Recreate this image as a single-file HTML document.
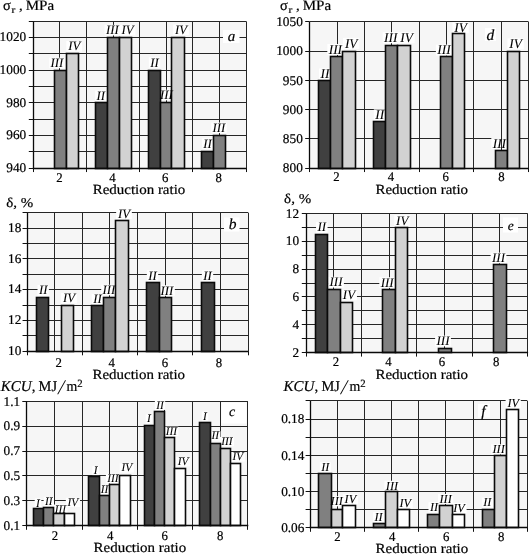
<!DOCTYPE html>
<html lang="en"><head><meta charset="utf-8"><title>Figure</title>
<style>
html,body{margin:0;padding:0;background:#fff;}
svg{display:block;font-family:"Liberation Serif", serif;fill:#111;}
svg text{fill:#000;stroke:#000;stroke-width:0.2px;text-rendering:geometricPrecision;}
</style></head>
<body>
<svg width="532" height="554" viewBox="0 0 532 554">
<rect x="0" y="0" width="532" height="554" fill="#ffffff"/>
<rect x="33.30" y="21.35" width="212.80" height="146.70" fill="#f6f6f6"/>
<line x1="33.50" y1="21.35" x2="33.50" y2="168.05" stroke="#262626" stroke-width="1.0"/>
<line x1="59.50" y1="21.35" x2="59.50" y2="168.05" stroke="#262626" stroke-width="1.0"/>
<line x1="86.50" y1="21.35" x2="86.50" y2="168.05" stroke="#262626" stroke-width="1.0"/>
<line x1="113.50" y1="21.35" x2="113.50" y2="168.05" stroke="#262626" stroke-width="1.0"/>
<line x1="139.50" y1="21.35" x2="139.50" y2="168.05" stroke="#262626" stroke-width="1.0"/>
<line x1="166.50" y1="21.35" x2="166.50" y2="168.05" stroke="#262626" stroke-width="1.0"/>
<line x1="192.50" y1="21.35" x2="192.50" y2="168.05" stroke="#262626" stroke-width="1.0"/>
<line x1="219.50" y1="21.35" x2="219.50" y2="168.05" stroke="#262626" stroke-width="1.0"/>
<line x1="246.50" y1="21.35" x2="246.50" y2="168.05" stroke="#262626" stroke-width="1.0"/>
<line x1="33.30" y1="21.50" x2="246.10" y2="21.50" stroke="#262626" stroke-width="1.0"/>
<line x1="33.30" y1="37.50" x2="246.10" y2="37.50" stroke="#262626" stroke-width="1.0"/>
<line x1="33.30" y1="53.50" x2="246.10" y2="53.50" stroke="#262626" stroke-width="1.0"/>
<line x1="33.30" y1="70.50" x2="246.10" y2="70.50" stroke="#262626" stroke-width="1.0"/>
<line x1="33.30" y1="86.50" x2="246.10" y2="86.50" stroke="#262626" stroke-width="1.0"/>
<line x1="33.30" y1="102.50" x2="246.10" y2="102.50" stroke="#262626" stroke-width="1.0"/>
<line x1="33.30" y1="119.50" x2="246.10" y2="119.50" stroke="#262626" stroke-width="1.0"/>
<line x1="33.30" y1="135.50" x2="246.10" y2="135.50" stroke="#262626" stroke-width="1.0"/>
<line x1="33.30" y1="151.50" x2="246.10" y2="151.50" stroke="#262626" stroke-width="1.0"/>
<line x1="33.30" y1="168.50" x2="246.10" y2="168.50" stroke="#262626" stroke-width="1.0"/>
<rect x="49.21" y="57.68" width="15.58" height="10.50" fill="#ffffff"/>
<rect x="66.34" y="41.08" width="15.71" height="10.50" fill="#ffffff"/>
<rect x="95.12" y="90.48" width="11.36" height="10.50" fill="#ffffff"/>
<rect x="104.51" y="24.88" width="15.58" height="10.50" fill="#ffffff"/>
<rect x="119.64" y="24.88" width="15.71" height="10.50" fill="#ffffff"/>
<rect x="148.82" y="57.28" width="11.36" height="10.50" fill="#ffffff"/>
<rect x="158.71" y="89.78" width="15.58" height="10.50" fill="#ffffff"/>
<rect x="173.14" y="24.58" width="15.71" height="10.50" fill="#ffffff"/>
<rect x="201.82" y="138.28" width="11.36" height="10.50" fill="#ffffff"/>
<rect x="211.21" y="122.58" width="15.58" height="10.50" fill="#ffffff"/>
<rect x="223.00" y="30.00" width="16.50" height="13.00" fill="#ffffff"/>
<rect x="54.50" y="70.50" width="12.00" height="98.00" fill="#808080" stroke="#0a0a0a" stroke-width="1.6"/>
<rect x="66.50" y="53.50" width="12.00" height="115.00" fill="#d2d2d2" stroke="#0a0a0a" stroke-width="1.6"/>
<rect x="95.50" y="102.50" width="12.00" height="66.00" fill="#404040" stroke="#0a0a0a" stroke-width="1.6"/>
<rect x="107.50" y="37.50" width="12.00" height="131.00" fill="#808080" stroke="#0a0a0a" stroke-width="1.6"/>
<rect x="119.50" y="37.50" width="12.00" height="131.00" fill="#d2d2d2" stroke="#0a0a0a" stroke-width="1.6"/>
<rect x="148.50" y="70.50" width="12.00" height="98.00" fill="#404040" stroke="#0a0a0a" stroke-width="1.6"/>
<rect x="160.50" y="102.50" width="11.00" height="66.00" fill="#808080" stroke="#0a0a0a" stroke-width="1.6"/>
<rect x="171.50" y="37.50" width="13.00" height="131.00" fill="#d2d2d2" stroke="#0a0a0a" stroke-width="1.6"/>
<rect x="201.50" y="151.50" width="12.00" height="17.00" fill="#404040" stroke="#0a0a0a" stroke-width="1.6"/>
<rect x="213.50" y="135.50" width="12.00" height="33.00" fill="#808080" stroke="#0a0a0a" stroke-width="1.6"/>
<line x1="33.50" y1="21.35" x2="33.50" y2="168.55" stroke="#0a0a0a" stroke-width="1.3"/>
<line x1="32.80" y1="168.50" x2="246.60" y2="168.50" stroke="#0a0a0a" stroke-width="1.3"/>
<line x1="28.80" y1="21.50" x2="33.30" y2="21.50" stroke="#111" stroke-width="1.0"/>
<line x1="28.80" y1="37.50" x2="33.30" y2="37.50" stroke="#111" stroke-width="1.0"/>
<line x1="28.80" y1="53.50" x2="33.30" y2="53.50" stroke="#111" stroke-width="1.0"/>
<line x1="28.80" y1="70.50" x2="33.30" y2="70.50" stroke="#111" stroke-width="1.0"/>
<line x1="28.80" y1="86.50" x2="33.30" y2="86.50" stroke="#111" stroke-width="1.0"/>
<line x1="28.80" y1="102.50" x2="33.30" y2="102.50" stroke="#111" stroke-width="1.0"/>
<line x1="28.80" y1="119.50" x2="33.30" y2="119.50" stroke="#111" stroke-width="1.0"/>
<line x1="28.80" y1="135.50" x2="33.30" y2="135.50" stroke="#111" stroke-width="1.0"/>
<line x1="28.80" y1="151.50" x2="33.30" y2="151.50" stroke="#111" stroke-width="1.0"/>
<line x1="28.80" y1="168.50" x2="33.30" y2="168.50" stroke="#111" stroke-width="1.0"/>
<line x1="33.50" y1="168.05" x2="33.50" y2="172.05" stroke="#111" stroke-width="1.0"/>
<line x1="86.50" y1="168.05" x2="86.50" y2="172.05" stroke="#111" stroke-width="1.0"/>
<line x1="139.50" y1="168.05" x2="139.50" y2="172.05" stroke="#111" stroke-width="1.0"/>
<line x1="192.50" y1="168.05" x2="192.50" y2="172.05" stroke="#111" stroke-width="1.0"/>
<line x1="246.50" y1="168.05" x2="246.50" y2="172.05" stroke="#111" stroke-width="1.0"/>
<text x="57.00" y="66.90" font-size="12.8" text-anchor="middle" font-style="italic" style="stroke-width:0.08px">III</text>
<text x="74.20" y="50.30" font-size="12.8" text-anchor="middle" font-style="italic" style="stroke-width:0.08px">IV</text>
<text x="100.80" y="99.70" font-size="12.8" text-anchor="middle" font-style="italic" style="stroke-width:0.08px">II</text>
<text x="112.30" y="34.10" font-size="12.8" text-anchor="middle" font-style="italic" style="stroke-width:0.08px">III</text>
<text x="127.50" y="34.10" font-size="12.8" text-anchor="middle" font-style="italic" style="stroke-width:0.08px">IV</text>
<text x="154.50" y="66.50" font-size="12.8" text-anchor="middle" font-style="italic" style="stroke-width:0.08px">II</text>
<text x="166.50" y="99.00" font-size="12.8" text-anchor="middle" font-style="italic" style="stroke-width:0.08px">III</text>
<text x="181.00" y="33.80" font-size="12.8" text-anchor="middle" font-style="italic" style="stroke-width:0.08px">IV</text>
<text x="207.50" y="147.50" font-size="12.8" text-anchor="middle" font-style="italic" style="stroke-width:0.08px">II</text>
<text x="219.00" y="131.80" font-size="12.8" text-anchor="middle" font-style="italic" style="stroke-width:0.08px">III</text>
<text x="231.50" y="40.50" font-size="15" text-anchor="middle" font-style="italic">a</text>
<text x="26.20" y="41.35" font-size="13.3" text-anchor="end" textLength="26.60" lengthAdjust="spacingAndGlyphs">1020</text>
<text x="26.20" y="73.95" font-size="13.3" text-anchor="end" textLength="26.60" lengthAdjust="spacingAndGlyphs">1000</text>
<text x="26.20" y="106.55" font-size="13.3" text-anchor="end" textLength="19.95" lengthAdjust="spacingAndGlyphs">980</text>
<text x="26.20" y="139.15" font-size="13.3" text-anchor="end" textLength="19.95" lengthAdjust="spacingAndGlyphs">960</text>
<text x="26.20" y="171.75" font-size="13.3" text-anchor="end" textLength="19.95" lengthAdjust="spacingAndGlyphs">940</text>
<text x="59.50" y="181.60" font-size="13.3" text-anchor="middle" textLength="6.40" lengthAdjust="spacingAndGlyphs">2</text>
<text x="112.50" y="181.60" font-size="13.3" text-anchor="middle" textLength="6.40" lengthAdjust="spacingAndGlyphs">4</text>
<text x="165.30" y="181.60" font-size="13.3" text-anchor="middle" textLength="6.40" lengthAdjust="spacingAndGlyphs">6</text>
<text x="218.70" y="181.60" font-size="13.3" text-anchor="middle" textLength="6.40" lengthAdjust="spacingAndGlyphs">8</text>
<text x="92.70" y="193.70" font-size="14" text-anchor="start" textLength="92.60" lengthAdjust="spacingAndGlyphs">Reduction ratio</text>
<rect x="27.05" y="212.70" width="221.05" height="138.60" fill="#f6f6f6"/>
<line x1="27.50" y1="212.70" x2="27.50" y2="351.30" stroke="#262626" stroke-width="1.0"/>
<line x1="54.50" y1="212.70" x2="54.50" y2="351.30" stroke="#262626" stroke-width="1.0"/>
<line x1="82.50" y1="212.70" x2="82.50" y2="351.30" stroke="#262626" stroke-width="1.0"/>
<line x1="109.50" y1="212.70" x2="109.50" y2="351.30" stroke="#262626" stroke-width="1.0"/>
<line x1="137.50" y1="212.70" x2="137.50" y2="351.30" stroke="#262626" stroke-width="1.0"/>
<line x1="165.50" y1="212.70" x2="165.50" y2="351.30" stroke="#262626" stroke-width="1.0"/>
<line x1="192.50" y1="212.70" x2="192.50" y2="351.30" stroke="#262626" stroke-width="1.0"/>
<line x1="220.50" y1="212.70" x2="220.50" y2="351.30" stroke="#262626" stroke-width="1.0"/>
<line x1="248.50" y1="212.70" x2="248.50" y2="351.30" stroke="#262626" stroke-width="1.0"/>
<line x1="27.05" y1="212.50" x2="248.10" y2="212.50" stroke="#262626" stroke-width="1.0"/>
<line x1="27.05" y1="228.50" x2="248.10" y2="228.50" stroke="#262626" stroke-width="1.0"/>
<line x1="27.05" y1="243.50" x2="248.10" y2="243.50" stroke="#262626" stroke-width="1.0"/>
<line x1="27.05" y1="258.50" x2="248.10" y2="258.50" stroke="#262626" stroke-width="1.0"/>
<line x1="27.05" y1="274.50" x2="248.10" y2="274.50" stroke="#262626" stroke-width="1.0"/>
<line x1="27.05" y1="289.50" x2="248.10" y2="289.50" stroke="#262626" stroke-width="1.0"/>
<line x1="27.05" y1="305.50" x2="248.10" y2="305.50" stroke="#262626" stroke-width="1.0"/>
<line x1="27.05" y1="320.50" x2="248.10" y2="320.50" stroke="#262626" stroke-width="1.0"/>
<line x1="27.05" y1="335.50" x2="248.10" y2="335.50" stroke="#262626" stroke-width="1.0"/>
<line x1="27.05" y1="351.50" x2="248.10" y2="351.50" stroke="#262626" stroke-width="1.0"/>
<rect x="37.52" y="285.08" width="11.36" height="10.50" fill="#ffffff"/>
<rect x="61.14" y="292.98" width="15.71" height="10.50" fill="#ffffff"/>
<rect x="91.72" y="293.98" width="11.36" height="10.50" fill="#ffffff"/>
<rect x="101.21" y="284.78" width="15.58" height="10.50" fill="#ffffff"/>
<rect x="116.14" y="208.58" width="15.71" height="10.50" fill="#ffffff"/>
<rect x="146.82" y="270.28" width="11.36" height="10.50" fill="#ffffff"/>
<rect x="159.21" y="285.28" width="15.58" height="10.50" fill="#ffffff"/>
<rect x="201.82" y="270.28" width="11.36" height="10.50" fill="#ffffff"/>
<rect x="224.00" y="217.50" width="15.50" height="14.00" fill="#ffffff"/>
<rect x="36.50" y="297.50" width="12.00" height="54.00" fill="#404040" stroke="#0a0a0a" stroke-width="1.6"/>
<rect x="61.50" y="305.50" width="12.00" height="46.00" fill="#d2d2d2" stroke="#0a0a0a" stroke-width="1.6"/>
<rect x="91.50" y="305.50" width="12.00" height="46.00" fill="#404040" stroke="#0a0a0a" stroke-width="1.6"/>
<rect x="103.50" y="297.50" width="12.00" height="54.00" fill="#808080" stroke="#0a0a0a" stroke-width="1.6"/>
<rect x="115.50" y="220.50" width="13.00" height="131.00" fill="#d2d2d2" stroke="#0a0a0a" stroke-width="1.6"/>
<rect x="146.50" y="282.50" width="13.00" height="69.00" fill="#404040" stroke="#0a0a0a" stroke-width="1.6"/>
<rect x="159.50" y="297.50" width="12.00" height="54.00" fill="#808080" stroke="#0a0a0a" stroke-width="1.6"/>
<rect x="201.50" y="282.50" width="13.00" height="69.00" fill="#404040" stroke="#0a0a0a" stroke-width="1.6"/>
<line x1="27.50" y1="212.70" x2="27.50" y2="351.80" stroke="#0a0a0a" stroke-width="1.3"/>
<line x1="26.55" y1="351.50" x2="248.60" y2="351.50" stroke="#0a0a0a" stroke-width="1.3"/>
<line x1="22.55" y1="212.50" x2="27.05" y2="212.50" stroke="#111" stroke-width="1.0"/>
<line x1="22.55" y1="228.50" x2="27.05" y2="228.50" stroke="#111" stroke-width="1.0"/>
<line x1="22.55" y1="243.50" x2="27.05" y2="243.50" stroke="#111" stroke-width="1.0"/>
<line x1="22.55" y1="258.50" x2="27.05" y2="258.50" stroke="#111" stroke-width="1.0"/>
<line x1="22.55" y1="274.50" x2="27.05" y2="274.50" stroke="#111" stroke-width="1.0"/>
<line x1="22.55" y1="289.50" x2="27.05" y2="289.50" stroke="#111" stroke-width="1.0"/>
<line x1="22.55" y1="305.50" x2="27.05" y2="305.50" stroke="#111" stroke-width="1.0"/>
<line x1="22.55" y1="320.50" x2="27.05" y2="320.50" stroke="#111" stroke-width="1.0"/>
<line x1="22.55" y1="335.50" x2="27.05" y2="335.50" stroke="#111" stroke-width="1.0"/>
<line x1="22.55" y1="351.50" x2="27.05" y2="351.50" stroke="#111" stroke-width="1.0"/>
<line x1="27.50" y1="351.30" x2="27.50" y2="355.30" stroke="#111" stroke-width="1.0"/>
<line x1="82.50" y1="351.30" x2="82.50" y2="355.30" stroke="#111" stroke-width="1.0"/>
<line x1="137.50" y1="351.30" x2="137.50" y2="355.30" stroke="#111" stroke-width="1.0"/>
<line x1="192.50" y1="351.30" x2="192.50" y2="355.30" stroke="#111" stroke-width="1.0"/>
<line x1="248.50" y1="351.30" x2="248.50" y2="355.30" stroke="#111" stroke-width="1.0"/>
<text x="43.20" y="294.30" font-size="12.8" text-anchor="middle" font-style="italic" style="stroke-width:0.08px">II</text>
<text x="69.00" y="302.20" font-size="12.8" text-anchor="middle" font-style="italic" style="stroke-width:0.08px">IV</text>
<text x="97.40" y="303.20" font-size="12.8" text-anchor="middle" font-style="italic" style="stroke-width:0.08px">II</text>
<text x="109.00" y="294.00" font-size="12.8" text-anchor="middle" font-style="italic" style="stroke-width:0.08px">III</text>
<text x="124.00" y="217.80" font-size="12.8" text-anchor="middle" font-style="italic" style="stroke-width:0.08px">IV</text>
<text x="152.50" y="279.50" font-size="12.8" text-anchor="middle" font-style="italic" style="stroke-width:0.08px">II</text>
<text x="167.00" y="294.50" font-size="12.8" text-anchor="middle" font-style="italic" style="stroke-width:0.08px">III</text>
<text x="207.50" y="279.50" font-size="12.8" text-anchor="middle" font-style="italic" style="stroke-width:0.08px">II</text>
<text x="232.50" y="229.00" font-size="15.5" text-anchor="middle" font-style="italic">b</text>
<text x="21.30" y="231.80" font-size="13.3" text-anchor="end" textLength="13.30" lengthAdjust="spacingAndGlyphs">18</text>
<text x="21.30" y="262.60" font-size="13.3" text-anchor="end" textLength="13.30" lengthAdjust="spacingAndGlyphs">16</text>
<text x="21.30" y="293.40" font-size="13.3" text-anchor="end" textLength="13.30" lengthAdjust="spacingAndGlyphs">14</text>
<text x="21.30" y="324.20" font-size="13.3" text-anchor="end" textLength="13.30" lengthAdjust="spacingAndGlyphs">12</text>
<text x="21.30" y="355.00" font-size="13.3" text-anchor="end" textLength="13.30" lengthAdjust="spacingAndGlyphs">10</text>
<text x="58.75" y="366.60" font-size="13.3" text-anchor="middle" textLength="6.40" lengthAdjust="spacingAndGlyphs">2</text>
<text x="111.75" y="366.60" font-size="13.3" text-anchor="middle" textLength="6.40" lengthAdjust="spacingAndGlyphs">4</text>
<text x="165.00" y="366.60" font-size="13.3" text-anchor="middle" textLength="6.40" lengthAdjust="spacingAndGlyphs">6</text>
<text x="219.00" y="366.60" font-size="13.3" text-anchor="middle" textLength="6.40" lengthAdjust="spacingAndGlyphs">8</text>
<text x="92.50" y="379.10" font-size="14" text-anchor="start" textLength="92.60" lengthAdjust="spacingAndGlyphs">Reduction ratio</text>
<rect x="26.80" y="401.20" width="221.00" height="124.60" fill="#f6f6f6"/>
<line x1="26.50" y1="401.20" x2="26.50" y2="525.80" stroke="#262626" stroke-width="1.0"/>
<line x1="54.50" y1="401.20" x2="54.50" y2="525.80" stroke="#262626" stroke-width="1.0"/>
<line x1="82.50" y1="401.20" x2="82.50" y2="525.80" stroke="#262626" stroke-width="1.0"/>
<line x1="109.50" y1="401.20" x2="109.50" y2="525.80" stroke="#262626" stroke-width="1.0"/>
<line x1="137.50" y1="401.20" x2="137.50" y2="525.80" stroke="#262626" stroke-width="1.0"/>
<line x1="164.50" y1="401.20" x2="164.50" y2="525.80" stroke="#262626" stroke-width="1.0"/>
<line x1="192.50" y1="401.20" x2="192.50" y2="525.80" stroke="#262626" stroke-width="1.0"/>
<line x1="220.50" y1="401.20" x2="220.50" y2="525.80" stroke="#262626" stroke-width="1.0"/>
<line x1="247.50" y1="401.20" x2="247.50" y2="525.80" stroke="#262626" stroke-width="1.0"/>
<line x1="26.80" y1="401.50" x2="247.80" y2="401.50" stroke="#262626" stroke-width="1.0"/>
<line x1="26.80" y1="426.50" x2="247.80" y2="426.50" stroke="#262626" stroke-width="1.0"/>
<line x1="26.80" y1="451.50" x2="247.80" y2="451.50" stroke="#262626" stroke-width="1.0"/>
<line x1="26.80" y1="475.50" x2="247.80" y2="475.50" stroke="#262626" stroke-width="1.0"/>
<line x1="26.80" y1="500.50" x2="247.80" y2="500.50" stroke="#262626" stroke-width="1.0"/>
<line x1="26.80" y1="525.50" x2="247.80" y2="525.50" stroke="#262626" stroke-width="1.0"/>
<rect x="34.71" y="498.36" width="6.58" height="9.27" fill="#ffffff"/>
<rect x="43.64" y="496.86" width="10.31" height="9.27" fill="#ffffff"/>
<rect x="53.38" y="504.56" width="14.04" height="9.27" fill="#ffffff"/>
<rect x="65.82" y="497.76" width="14.15" height="9.27" fill="#ffffff"/>
<rect x="92.31" y="465.86" width="6.58" height="9.27" fill="#ffffff"/>
<rect x="99.25" y="484.86" width="10.31" height="9.27" fill="#ffffff"/>
<rect x="105.88" y="474.16" width="14.04" height="9.27" fill="#ffffff"/>
<rect x="119.72" y="463.26" width="14.15" height="9.27" fill="#ffffff"/>
<rect x="145.61" y="414.26" width="6.58" height="9.27" fill="#ffffff"/>
<rect x="154.84" y="400.66" width="10.31" height="9.27" fill="#ffffff"/>
<rect x="164.38" y="426.66" width="14.04" height="9.27" fill="#ffffff"/>
<rect x="175.92" y="457.06" width="14.15" height="9.27" fill="#ffffff"/>
<rect x="201.71" y="411.56" width="6.58" height="9.27" fill="#ffffff"/>
<rect x="210.15" y="431.26" width="10.31" height="9.27" fill="#ffffff"/>
<rect x="219.98" y="436.96" width="14.04" height="9.27" fill="#ffffff"/>
<rect x="230.72" y="452.26" width="14.15" height="9.27" fill="#ffffff"/>
<rect x="221.50" y="402.50" width="25.00" height="21.00" fill="#ffffff"/>
<rect x="33.50" y="508.50" width="10.00" height="17.00" fill="#404040" stroke="#0a0a0a" stroke-width="1.6"/>
<rect x="43.50" y="507.50" width="10.00" height="18.00" fill="#808080" stroke="#0a0a0a" stroke-width="1.6"/>
<rect x="53.50" y="513.50" width="11.00" height="12.00" fill="#d2d2d2" stroke="#0a0a0a" stroke-width="1.6"/>
<rect x="64.50" y="513.50" width="10.00" height="12.00" fill="#ffffff" stroke="#0a0a0a" stroke-width="1.6"/>
<rect x="88.50" y="476.50" width="11.00" height="49.00" fill="#404040" stroke="#0a0a0a" stroke-width="1.6"/>
<rect x="99.50" y="495.50" width="10.00" height="30.00" fill="#808080" stroke="#0a0a0a" stroke-width="1.6"/>
<rect x="109.50" y="484.50" width="10.00" height="41.00" fill="#d2d2d2" stroke="#0a0a0a" stroke-width="1.6"/>
<rect x="119.50" y="475.50" width="11.00" height="50.00" fill="#ffffff" stroke="#0a0a0a" stroke-width="1.6"/>
<rect x="144.50" y="425.50" width="10.00" height="100.00" fill="#404040" stroke="#0a0a0a" stroke-width="1.6"/>
<rect x="154.50" y="411.50" width="10.00" height="114.00" fill="#808080" stroke="#0a0a0a" stroke-width="1.6"/>
<rect x="164.50" y="437.50" width="10.00" height="88.00" fill="#d2d2d2" stroke="#0a0a0a" stroke-width="1.6"/>
<rect x="174.50" y="468.50" width="11.00" height="57.00" fill="#ffffff" stroke="#0a0a0a" stroke-width="1.6"/>
<rect x="199.50" y="422.50" width="11.00" height="103.00" fill="#404040" stroke="#0a0a0a" stroke-width="1.6"/>
<rect x="210.50" y="443.50" width="10.00" height="82.00" fill="#808080" stroke="#0a0a0a" stroke-width="1.6"/>
<rect x="220.50" y="448.50" width="10.00" height="77.00" fill="#d2d2d2" stroke="#0a0a0a" stroke-width="1.6"/>
<rect x="230.50" y="463.50" width="10.00" height="62.00" fill="#ffffff" stroke="#0a0a0a" stroke-width="1.6"/>
<line x1="26.50" y1="401.20" x2="26.50" y2="526.30" stroke="#0a0a0a" stroke-width="1.3"/>
<line x1="26.30" y1="525.50" x2="248.30" y2="525.50" stroke="#0a0a0a" stroke-width="1.3"/>
<line x1="22.30" y1="401.50" x2="26.80" y2="401.50" stroke="#111" stroke-width="1.0"/>
<line x1="22.30" y1="426.50" x2="26.80" y2="426.50" stroke="#111" stroke-width="1.0"/>
<line x1="22.30" y1="451.50" x2="26.80" y2="451.50" stroke="#111" stroke-width="1.0"/>
<line x1="22.30" y1="475.50" x2="26.80" y2="475.50" stroke="#111" stroke-width="1.0"/>
<line x1="22.30" y1="500.50" x2="26.80" y2="500.50" stroke="#111" stroke-width="1.0"/>
<line x1="22.30" y1="525.50" x2="26.80" y2="525.50" stroke="#111" stroke-width="1.0"/>
<line x1="26.50" y1="525.80" x2="26.50" y2="529.80" stroke="#111" stroke-width="1.0"/>
<line x1="82.50" y1="525.80" x2="82.50" y2="529.80" stroke="#111" stroke-width="1.0"/>
<line x1="137.50" y1="525.80" x2="137.50" y2="529.80" stroke="#111" stroke-width="1.0"/>
<line x1="192.50" y1="525.80" x2="192.50" y2="529.80" stroke="#111" stroke-width="1.0"/>
<line x1="247.50" y1="525.80" x2="247.50" y2="529.80" stroke="#111" stroke-width="1.0"/>
<text x="38.00" y="506.50" font-size="11.3" text-anchor="middle" font-style="italic" style="stroke-width:0.08px">I</text>
<text x="48.80" y="505.00" font-size="11.3" text-anchor="middle" font-style="italic" style="stroke-width:0.08px">II</text>
<text x="60.40" y="512.70" font-size="11.3" text-anchor="middle" font-style="italic" style="stroke-width:0.08px">III</text>
<text x="72.90" y="505.90" font-size="11.3" text-anchor="middle" font-style="italic" style="stroke-width:0.08px">IV</text>
<text x="95.60" y="474.00" font-size="11.3" text-anchor="middle" font-style="italic" style="stroke-width:0.08px">I</text>
<text x="104.40" y="493.00" font-size="11.3" text-anchor="middle" font-style="italic" style="stroke-width:0.08px">II</text>
<text x="112.90" y="482.30" font-size="11.3" text-anchor="middle" font-style="italic" style="stroke-width:0.08px">III</text>
<text x="126.80" y="471.40" font-size="11.3" text-anchor="middle" font-style="italic" style="stroke-width:0.08px">IV</text>
<text x="148.90" y="422.40" font-size="11.3" text-anchor="middle" font-style="italic" style="stroke-width:0.08px">I</text>
<text x="160.00" y="408.80" font-size="11.3" text-anchor="middle" font-style="italic" style="stroke-width:0.08px">II</text>
<text x="171.40" y="434.80" font-size="11.3" text-anchor="middle" font-style="italic" style="stroke-width:0.08px">III</text>
<text x="183.00" y="465.20" font-size="11.3" text-anchor="middle" font-style="italic" style="stroke-width:0.08px">IV</text>
<text x="205.00" y="419.70" font-size="11.3" text-anchor="middle" font-style="italic" style="stroke-width:0.08px">I</text>
<text x="215.30" y="439.40" font-size="11.3" text-anchor="middle" font-style="italic" style="stroke-width:0.08px">II</text>
<text x="227.00" y="445.10" font-size="11.3" text-anchor="middle" font-style="italic" style="stroke-width:0.08px">III</text>
<text x="237.80" y="460.40" font-size="11.3" text-anchor="middle" font-style="italic" style="stroke-width:0.08px">IV</text>
<text x="232.10" y="416.30" font-size="14" text-anchor="middle" font-style="italic">c</text>
<text x="20.10" y="405.50" font-size="13.3" text-anchor="end" textLength="16.60" lengthAdjust="spacingAndGlyphs">1.1</text>
<text x="20.10" y="430.42" font-size="13.3" text-anchor="end" textLength="16.60" lengthAdjust="spacingAndGlyphs">0.9</text>
<text x="20.10" y="455.34" font-size="13.3" text-anchor="end" textLength="16.60" lengthAdjust="spacingAndGlyphs">0.7</text>
<text x="20.10" y="480.26" font-size="13.3" text-anchor="end" textLength="16.60" lengthAdjust="spacingAndGlyphs">0.5</text>
<text x="20.10" y="505.18" font-size="13.3" text-anchor="end" textLength="16.60" lengthAdjust="spacingAndGlyphs">0.3</text>
<text x="20.10" y="530.10" font-size="13.3" text-anchor="end" textLength="16.60" lengthAdjust="spacingAndGlyphs">0.1</text>
<text x="55.00" y="540.30" font-size="13.3" text-anchor="middle" textLength="6.40" lengthAdjust="spacingAndGlyphs">2</text>
<text x="110.20" y="540.30" font-size="13.3" text-anchor="middle" textLength="6.40" lengthAdjust="spacingAndGlyphs">4</text>
<text x="164.70" y="540.30" font-size="13.3" text-anchor="middle" textLength="6.40" lengthAdjust="spacingAndGlyphs">6</text>
<text x="220.10" y="540.30" font-size="13.3" text-anchor="middle" textLength="6.40" lengthAdjust="spacingAndGlyphs">8</text>
<text x="93.60" y="552.40" font-size="14" text-anchor="start" textLength="92.60" lengthAdjust="spacingAndGlyphs">Reduction ratio</text>
<rect x="309.70" y="21.90" width="218.80" height="146.15" fill="#f6f6f6"/>
<line x1="309.50" y1="21.90" x2="309.50" y2="168.05" stroke="#262626" stroke-width="1.0"/>
<line x1="337.50" y1="21.90" x2="337.50" y2="168.05" stroke="#262626" stroke-width="1.0"/>
<line x1="364.50" y1="21.90" x2="364.50" y2="168.05" stroke="#262626" stroke-width="1.0"/>
<line x1="391.50" y1="21.90" x2="391.50" y2="168.05" stroke="#262626" stroke-width="1.0"/>
<line x1="419.50" y1="21.90" x2="419.50" y2="168.05" stroke="#262626" stroke-width="1.0"/>
<line x1="446.50" y1="21.90" x2="446.50" y2="168.05" stroke="#262626" stroke-width="1.0"/>
<line x1="473.50" y1="21.90" x2="473.50" y2="168.05" stroke="#262626" stroke-width="1.0"/>
<line x1="501.50" y1="21.90" x2="501.50" y2="168.05" stroke="#262626" stroke-width="1.0"/>
<line x1="528.50" y1="21.90" x2="528.50" y2="168.05" stroke="#262626" stroke-width="1.0"/>
<line x1="309.70" y1="21.50" x2="528.50" y2="21.50" stroke="#262626" stroke-width="1.0"/>
<line x1="309.70" y1="51.50" x2="528.50" y2="51.50" stroke="#262626" stroke-width="1.0"/>
<line x1="309.70" y1="80.50" x2="528.50" y2="80.50" stroke="#262626" stroke-width="1.0"/>
<line x1="309.70" y1="109.50" x2="528.50" y2="109.50" stroke="#262626" stroke-width="1.0"/>
<line x1="309.70" y1="138.50" x2="528.50" y2="138.50" stroke="#262626" stroke-width="1.0"/>
<line x1="309.70" y1="168.50" x2="528.50" y2="168.50" stroke="#262626" stroke-width="1.0"/>
<rect x="319.01" y="68.45" width="11.78" height="10.99" fill="#ffffff"/>
<rect x="327.30" y="44.05" width="16.20" height="10.99" fill="#ffffff"/>
<rect x="343.03" y="37.85" width="16.34" height="10.99" fill="#ffffff"/>
<rect x="373.81" y="109.35" width="11.78" height="10.99" fill="#ffffff"/>
<rect x="382.60" y="32.25" width="16.20" height="10.99" fill="#ffffff"/>
<rect x="398.33" y="32.25" width="16.34" height="10.99" fill="#ffffff"/>
<rect x="435.90" y="44.65" width="16.20" height="10.99" fill="#ffffff"/>
<rect x="452.43" y="22.15" width="16.34" height="10.99" fill="#ffffff"/>
<rect x="491.30" y="138.05" width="16.20" height="10.99" fill="#ffffff"/>
<rect x="507.43" y="38.35" width="16.34" height="10.99" fill="#ffffff"/>
<rect x="485.00" y="28.00" width="11.00" height="13.00" fill="#ffffff"/>
<line x1="501.50" y1="137.00" x2="501.50" y2="150.50" stroke="#262626" stroke-width="1.0"/>
<rect x="318.50" y="80.50" width="12.00" height="88.00" fill="#404040" stroke="#0a0a0a" stroke-width="1.6"/>
<rect x="330.50" y="56.50" width="12.00" height="112.00" fill="#808080" stroke="#0a0a0a" stroke-width="1.6"/>
<rect x="342.50" y="51.50" width="13.00" height="117.00" fill="#d2d2d2" stroke="#0a0a0a" stroke-width="1.6"/>
<rect x="373.50" y="121.50" width="12.00" height="47.00" fill="#404040" stroke="#0a0a0a" stroke-width="1.6"/>
<rect x="385.50" y="45.50" width="12.00" height="123.00" fill="#808080" stroke="#0a0a0a" stroke-width="1.6"/>
<rect x="397.50" y="45.50" width="13.00" height="123.00" fill="#d2d2d2" stroke="#0a0a0a" stroke-width="1.6"/>
<rect x="440.50" y="56.50" width="12.00" height="112.00" fill="#808080" stroke="#0a0a0a" stroke-width="1.6"/>
<rect x="452.50" y="33.50" width="12.00" height="135.00" fill="#d2d2d2" stroke="#0a0a0a" stroke-width="1.6"/>
<rect x="495.50" y="150.50" width="12.00" height="18.00" fill="#808080" stroke="#0a0a0a" stroke-width="1.6"/>
<rect x="507.50" y="51.50" width="12.00" height="117.00" fill="#d2d2d2" stroke="#0a0a0a" stroke-width="1.6"/>
<line x1="309.50" y1="21.90" x2="309.50" y2="168.55" stroke="#0a0a0a" stroke-width="1.3"/>
<line x1="309.20" y1="168.50" x2="529.00" y2="168.50" stroke="#0a0a0a" stroke-width="1.3"/>
<line x1="305.20" y1="21.50" x2="309.70" y2="21.50" stroke="#111" stroke-width="1.0"/>
<line x1="305.20" y1="51.50" x2="309.70" y2="51.50" stroke="#111" stroke-width="1.0"/>
<line x1="305.20" y1="80.50" x2="309.70" y2="80.50" stroke="#111" stroke-width="1.0"/>
<line x1="305.20" y1="109.50" x2="309.70" y2="109.50" stroke="#111" stroke-width="1.0"/>
<line x1="305.20" y1="138.50" x2="309.70" y2="138.50" stroke="#111" stroke-width="1.0"/>
<line x1="305.20" y1="168.50" x2="309.70" y2="168.50" stroke="#111" stroke-width="1.0"/>
<line x1="309.50" y1="168.05" x2="309.50" y2="172.05" stroke="#111" stroke-width="1.0"/>
<line x1="364.50" y1="168.05" x2="364.50" y2="172.05" stroke="#111" stroke-width="1.0"/>
<line x1="419.50" y1="168.05" x2="419.50" y2="172.05" stroke="#111" stroke-width="1.0"/>
<line x1="473.50" y1="168.05" x2="473.50" y2="172.05" stroke="#111" stroke-width="1.0"/>
<line x1="528.50" y1="168.05" x2="528.50" y2="172.05" stroke="#111" stroke-width="1.0"/>
<text x="324.90" y="78.10" font-size="13.4" text-anchor="middle" font-style="italic" style="stroke-width:0.08px">II</text>
<text x="335.40" y="53.70" font-size="13.4" text-anchor="middle" font-style="italic" style="stroke-width:0.08px">III</text>
<text x="351.20" y="47.50" font-size="13.4" text-anchor="middle" font-style="italic" style="stroke-width:0.08px">IV</text>
<text x="379.70" y="119.00" font-size="13.4" text-anchor="middle" font-style="italic" style="stroke-width:0.08px">II</text>
<text x="390.70" y="41.90" font-size="13.4" text-anchor="middle" font-style="italic" style="stroke-width:0.08px">III</text>
<text x="406.50" y="41.90" font-size="13.4" text-anchor="middle" font-style="italic" style="stroke-width:0.08px">IV</text>
<text x="444.00" y="54.30" font-size="13.4" text-anchor="middle" font-style="italic" style="stroke-width:0.08px">III</text>
<text x="460.60" y="31.80" font-size="13.4" text-anchor="middle" font-style="italic" style="stroke-width:0.08px">IV</text>
<text x="499.40" y="147.70" font-size="13.4" text-anchor="middle" font-style="italic" style="stroke-width:0.08px">III</text>
<text x="515.60" y="48.00" font-size="13.4" text-anchor="middle" font-style="italic" style="stroke-width:0.08px">IV</text>
<text x="490.40" y="39.90" font-size="15.5" text-anchor="middle" font-style="italic">d</text>
<text x="302.80" y="26.20" font-size="13.3" text-anchor="end" textLength="26.60" lengthAdjust="spacingAndGlyphs">1050</text>
<text x="302.80" y="55.43" font-size="13.3" text-anchor="end" textLength="26.60" lengthAdjust="spacingAndGlyphs">1000</text>
<text x="302.80" y="84.66" font-size="13.3" text-anchor="end" textLength="19.95" lengthAdjust="spacingAndGlyphs">950</text>
<text x="302.80" y="113.89" font-size="13.3" text-anchor="end" textLength="19.95" lengthAdjust="spacingAndGlyphs">900</text>
<text x="302.80" y="143.12" font-size="13.3" text-anchor="end" textLength="19.95" lengthAdjust="spacingAndGlyphs">850</text>
<text x="302.80" y="172.35" font-size="13.3" text-anchor="end" textLength="19.95" lengthAdjust="spacingAndGlyphs">800</text>
<text x="336.50" y="181.30" font-size="13.3" text-anchor="middle" textLength="6.40" lengthAdjust="spacingAndGlyphs">2</text>
<text x="391.00" y="181.30" font-size="13.3" text-anchor="middle" textLength="6.40" lengthAdjust="spacingAndGlyphs">4</text>
<text x="445.75" y="181.30" font-size="13.3" text-anchor="middle" textLength="6.40" lengthAdjust="spacingAndGlyphs">6</text>
<text x="501.50" y="181.30" font-size="13.3" text-anchor="middle" textLength="6.40" lengthAdjust="spacingAndGlyphs">8</text>
<text x="375.50" y="193.70" font-size="14" text-anchor="start" textLength="92.60" lengthAdjust="spacingAndGlyphs">Reduction ratio</text>
<rect x="306.30" y="213.40" width="221.30" height="139.20" fill="#f6f6f6"/>
<line x1="306.50" y1="213.40" x2="306.50" y2="352.60" stroke="#262626" stroke-width="1.0"/>
<line x1="333.50" y1="213.40" x2="333.50" y2="352.60" stroke="#262626" stroke-width="1.0"/>
<line x1="361.50" y1="213.40" x2="361.50" y2="352.60" stroke="#262626" stroke-width="1.0"/>
<line x1="389.50" y1="213.40" x2="389.50" y2="352.60" stroke="#262626" stroke-width="1.0"/>
<line x1="416.50" y1="213.40" x2="416.50" y2="352.60" stroke="#262626" stroke-width="1.0"/>
<line x1="444.50" y1="213.40" x2="444.50" y2="352.60" stroke="#262626" stroke-width="1.0"/>
<line x1="472.50" y1="213.40" x2="472.50" y2="352.60" stroke="#262626" stroke-width="1.0"/>
<line x1="499.50" y1="213.40" x2="499.50" y2="352.60" stroke="#262626" stroke-width="1.0"/>
<line x1="527.50" y1="213.40" x2="527.50" y2="352.60" stroke="#262626" stroke-width="1.0"/>
<line x1="306.30" y1="213.50" x2="527.60" y2="213.50" stroke="#262626" stroke-width="1.0"/>
<line x1="306.30" y1="227.50" x2="527.60" y2="227.50" stroke="#262626" stroke-width="1.0"/>
<line x1="306.30" y1="241.50" x2="527.60" y2="241.50" stroke="#262626" stroke-width="1.0"/>
<line x1="306.30" y1="255.50" x2="527.60" y2="255.50" stroke="#262626" stroke-width="1.0"/>
<line x1="306.30" y1="269.50" x2="527.60" y2="269.50" stroke="#262626" stroke-width="1.0"/>
<line x1="306.30" y1="283.50" x2="527.60" y2="283.50" stroke="#262626" stroke-width="1.0"/>
<line x1="306.30" y1="296.50" x2="527.60" y2="296.50" stroke="#262626" stroke-width="1.0"/>
<line x1="306.30" y1="310.50" x2="527.60" y2="310.50" stroke="#262626" stroke-width="1.0"/>
<line x1="306.30" y1="324.50" x2="527.60" y2="324.50" stroke="#262626" stroke-width="1.0"/>
<line x1="306.30" y1="338.50" x2="527.60" y2="338.50" stroke="#262626" stroke-width="1.0"/>
<line x1="306.30" y1="352.50" x2="527.60" y2="352.50" stroke="#262626" stroke-width="1.0"/>
<rect x="316.05" y="222.04" width="11.50" height="10.66" fill="#ffffff"/>
<rect x="328.11" y="276.84" width="15.79" height="10.66" fill="#ffffff"/>
<rect x="341.04" y="289.64" width="15.92" height="10.66" fill="#ffffff"/>
<rect x="379.31" y="277.24" width="15.79" height="10.66" fill="#ffffff"/>
<rect x="394.24" y="215.14" width="15.92" height="10.66" fill="#ffffff"/>
<rect x="435.11" y="335.64" width="15.79" height="10.66" fill="#ffffff"/>
<rect x="490.61" y="252.64" width="15.79" height="10.66" fill="#ffffff"/>
<rect x="503.00" y="217.50" width="15.00" height="15.00" fill="#ffffff"/>
<rect x="315.50" y="234.50" width="12.00" height="118.00" fill="#404040" stroke="#0a0a0a" stroke-width="1.6"/>
<rect x="327.50" y="289.50" width="13.00" height="63.00" fill="#808080" stroke="#0a0a0a" stroke-width="1.6"/>
<rect x="340.50" y="302.50" width="12.00" height="50.00" fill="#d2d2d2" stroke="#0a0a0a" stroke-width="1.6"/>
<rect x="382.50" y="289.50" width="13.00" height="63.00" fill="#808080" stroke="#0a0a0a" stroke-width="1.6"/>
<rect x="395.50" y="227.50" width="12.00" height="125.00" fill="#d2d2d2" stroke="#0a0a0a" stroke-width="1.6"/>
<rect x="438.50" y="348.50" width="13.00" height="4.00" fill="#808080" stroke="#0a0a0a" stroke-width="1.6"/>
<rect x="493.50" y="264.50" width="13.00" height="88.00" fill="#808080" stroke="#0a0a0a" stroke-width="1.6"/>
<line x1="306.50" y1="213.40" x2="306.50" y2="353.10" stroke="#0a0a0a" stroke-width="1.3"/>
<line x1="305.80" y1="352.50" x2="528.10" y2="352.50" stroke="#0a0a0a" stroke-width="1.3"/>
<line x1="301.80" y1="213.50" x2="306.30" y2="213.50" stroke="#111" stroke-width="1.0"/>
<line x1="301.80" y1="227.50" x2="306.30" y2="227.50" stroke="#111" stroke-width="1.0"/>
<line x1="301.80" y1="241.50" x2="306.30" y2="241.50" stroke="#111" stroke-width="1.0"/>
<line x1="301.80" y1="255.50" x2="306.30" y2="255.50" stroke="#111" stroke-width="1.0"/>
<line x1="301.80" y1="269.50" x2="306.30" y2="269.50" stroke="#111" stroke-width="1.0"/>
<line x1="301.80" y1="283.50" x2="306.30" y2="283.50" stroke="#111" stroke-width="1.0"/>
<line x1="301.80" y1="296.50" x2="306.30" y2="296.50" stroke="#111" stroke-width="1.0"/>
<line x1="301.80" y1="310.50" x2="306.30" y2="310.50" stroke="#111" stroke-width="1.0"/>
<line x1="301.80" y1="324.50" x2="306.30" y2="324.50" stroke="#111" stroke-width="1.0"/>
<line x1="301.80" y1="338.50" x2="306.30" y2="338.50" stroke="#111" stroke-width="1.0"/>
<line x1="301.80" y1="352.50" x2="306.30" y2="352.50" stroke="#111" stroke-width="1.0"/>
<line x1="306.50" y1="352.60" x2="306.50" y2="356.60" stroke="#111" stroke-width="1.0"/>
<line x1="361.50" y1="352.60" x2="361.50" y2="356.60" stroke="#111" stroke-width="1.0"/>
<line x1="416.50" y1="352.60" x2="416.50" y2="356.60" stroke="#111" stroke-width="1.0"/>
<line x1="472.50" y1="352.60" x2="472.50" y2="356.60" stroke="#111" stroke-width="1.0"/>
<line x1="527.50" y1="352.60" x2="527.50" y2="356.60" stroke="#111" stroke-width="1.0"/>
<text x="321.80" y="231.40" font-size="13.0" text-anchor="middle" font-style="italic" style="stroke-width:0.08px">II</text>
<text x="336.00" y="286.20" font-size="13.0" text-anchor="middle" font-style="italic" style="stroke-width:0.08px">III</text>
<text x="349.00" y="299.00" font-size="13.0" text-anchor="middle" font-style="italic" style="stroke-width:0.08px">IV</text>
<text x="387.20" y="286.60" font-size="13.0" text-anchor="middle" font-style="italic" style="stroke-width:0.08px">III</text>
<text x="402.20" y="224.50" font-size="13.0" text-anchor="middle" font-style="italic" style="stroke-width:0.08px">IV</text>
<text x="443.00" y="345.00" font-size="13.0" text-anchor="middle" font-style="italic" style="stroke-width:0.08px">III</text>
<text x="498.50" y="262.00" font-size="13.0" text-anchor="middle" font-style="italic" style="stroke-width:0.08px">III</text>
<text x="510.70" y="229.50" font-size="13.5" text-anchor="middle" font-style="italic">e</text>
<text x="299.10" y="217.60" font-size="13.3" text-anchor="end" textLength="13.30" lengthAdjust="spacingAndGlyphs">12</text>
<text x="299.10" y="245.44" font-size="13.3" text-anchor="end" textLength="13.30" lengthAdjust="spacingAndGlyphs">10</text>
<text x="299.10" y="273.28" font-size="13.3" text-anchor="end" textLength="6.65" lengthAdjust="spacingAndGlyphs">8</text>
<text x="299.10" y="301.12" font-size="13.3" text-anchor="end" textLength="6.65" lengthAdjust="spacingAndGlyphs">6</text>
<text x="299.10" y="328.96" font-size="13.3" text-anchor="end" textLength="6.65" lengthAdjust="spacingAndGlyphs">4</text>
<text x="299.10" y="356.80" font-size="13.3" text-anchor="end" textLength="6.65" lengthAdjust="spacingAndGlyphs">2</text>
<text x="336.00" y="366.00" font-size="13.3" text-anchor="middle" textLength="6.40" lengthAdjust="spacingAndGlyphs">2</text>
<text x="388.50" y="366.00" font-size="13.3" text-anchor="middle" textLength="6.40" lengthAdjust="spacingAndGlyphs">4</text>
<text x="442.00" y="366.00" font-size="13.3" text-anchor="middle" textLength="6.40" lengthAdjust="spacingAndGlyphs">6</text>
<text x="496.10" y="366.00" font-size="13.3" text-anchor="middle" textLength="6.40" lengthAdjust="spacingAndGlyphs">8</text>
<text x="375.50" y="379.10" font-size="14" text-anchor="start" textLength="92.60" lengthAdjust="spacingAndGlyphs">Reduction ratio</text>
<rect x="310.10" y="400.90" width="217.20" height="126.90" fill="#f6f6f6"/>
<line x1="310.50" y1="400.90" x2="310.50" y2="527.80" stroke="#262626" stroke-width="1.0"/>
<line x1="337.50" y1="400.90" x2="337.50" y2="527.80" stroke="#262626" stroke-width="1.0"/>
<line x1="364.50" y1="400.90" x2="364.50" y2="527.80" stroke="#262626" stroke-width="1.0"/>
<line x1="391.50" y1="400.90" x2="391.50" y2="527.80" stroke="#262626" stroke-width="1.0"/>
<line x1="418.50" y1="400.90" x2="418.50" y2="527.80" stroke="#262626" stroke-width="1.0"/>
<line x1="445.50" y1="400.90" x2="445.50" y2="527.80" stroke="#262626" stroke-width="1.0"/>
<line x1="473.50" y1="400.90" x2="473.50" y2="527.80" stroke="#262626" stroke-width="1.0"/>
<line x1="500.50" y1="400.90" x2="500.50" y2="527.80" stroke="#262626" stroke-width="1.0"/>
<line x1="527.50" y1="400.90" x2="527.50" y2="527.80" stroke="#262626" stroke-width="1.0"/>
<line x1="310.10" y1="400.50" x2="527.30" y2="400.50" stroke="#262626" stroke-width="1.0"/>
<line x1="310.10" y1="419.50" x2="527.30" y2="419.50" stroke="#262626" stroke-width="1.0"/>
<line x1="310.10" y1="437.50" x2="527.30" y2="437.50" stroke="#262626" stroke-width="1.0"/>
<line x1="310.10" y1="455.50" x2="527.30" y2="455.50" stroke="#262626" stroke-width="1.0"/>
<line x1="310.10" y1="473.50" x2="527.30" y2="473.50" stroke="#262626" stroke-width="1.0"/>
<line x1="310.10" y1="491.50" x2="527.30" y2="491.50" stroke="#262626" stroke-width="1.0"/>
<line x1="310.10" y1="509.50" x2="527.30" y2="509.50" stroke="#262626" stroke-width="1.0"/>
<line x1="310.10" y1="527.50" x2="527.30" y2="527.50" stroke="#262626" stroke-width="1.0"/>
<rect x="319.80" y="462.14" width="11.01" height="10.09" fill="#ffffff"/>
<rect x="329.17" y="496.24" width="15.07" height="10.09" fill="#ffffff"/>
<rect x="342.80" y="494.14" width="15.19" height="10.09" fill="#ffffff"/>
<rect x="373.10" y="512.14" width="11.01" height="10.09" fill="#ffffff"/>
<rect x="384.47" y="480.74" width="15.07" height="10.09" fill="#ffffff"/>
<rect x="397.60" y="498.34" width="15.19" height="10.09" fill="#ffffff"/>
<rect x="428.50" y="502.24" width="11.01" height="10.09" fill="#ffffff"/>
<rect x="438.07" y="493.94" width="15.07" height="10.09" fill="#ffffff"/>
<rect x="451.40" y="502.94" width="15.19" height="10.09" fill="#ffffff"/>
<rect x="481.80" y="497.44" width="11.01" height="10.09" fill="#ffffff"/>
<rect x="491.07" y="444.34" width="15.07" height="10.09" fill="#ffffff"/>
<rect x="505.60" y="398.14" width="15.19" height="10.09" fill="#ffffff"/>
<rect x="478.00" y="404.00" width="12.00" height="13.50" fill="#ffffff"/>
<rect x="318.50" y="473.50" width="13.00" height="54.00" fill="#808080" stroke="#0a0a0a" stroke-width="1.6"/>
<rect x="331.50" y="509.50" width="11.00" height="18.00" fill="#d2d2d2" stroke="#0a0a0a" stroke-width="1.6"/>
<rect x="342.50" y="505.50" width="13.00" height="22.00" fill="#ffffff" stroke="#0a0a0a" stroke-width="1.6"/>
<rect x="373.50" y="523.50" width="12.00" height="4.00" fill="#808080" stroke="#0a0a0a" stroke-width="1.6"/>
<rect x="385.50" y="491.50" width="12.00" height="36.00" fill="#d2d2d2" stroke="#0a0a0a" stroke-width="1.6"/>
<rect x="397.50" y="509.50" width="12.00" height="18.00" fill="#ffffff" stroke="#0a0a0a" stroke-width="1.6"/>
<rect x="427.50" y="514.50" width="12.00" height="13.00" fill="#808080" stroke="#0a0a0a" stroke-width="1.6"/>
<rect x="439.50" y="505.50" width="13.00" height="22.00" fill="#d2d2d2" stroke="#0a0a0a" stroke-width="1.6"/>
<rect x="452.50" y="514.50" width="12.00" height="13.00" fill="#ffffff" stroke="#0a0a0a" stroke-width="1.6"/>
<rect x="482.50" y="509.50" width="12.00" height="18.00" fill="#808080" stroke="#0a0a0a" stroke-width="1.6"/>
<rect x="494.50" y="455.50" width="12.00" height="72.00" fill="#d2d2d2" stroke="#0a0a0a" stroke-width="1.6"/>
<rect x="506.50" y="409.50" width="12.00" height="118.00" fill="#ffffff" stroke="#0a0a0a" stroke-width="1.6"/>
<line x1="310.50" y1="400.90" x2="310.50" y2="528.30" stroke="#0a0a0a" stroke-width="1.3"/>
<line x1="309.60" y1="527.50" x2="527.80" y2="527.50" stroke="#0a0a0a" stroke-width="1.3"/>
<line x1="305.60" y1="400.50" x2="310.10" y2="400.50" stroke="#111" stroke-width="1.0"/>
<line x1="305.60" y1="419.50" x2="310.10" y2="419.50" stroke="#111" stroke-width="1.0"/>
<line x1="305.60" y1="437.50" x2="310.10" y2="437.50" stroke="#111" stroke-width="1.0"/>
<line x1="305.60" y1="455.50" x2="310.10" y2="455.50" stroke="#111" stroke-width="1.0"/>
<line x1="305.60" y1="473.50" x2="310.10" y2="473.50" stroke="#111" stroke-width="1.0"/>
<line x1="305.60" y1="491.50" x2="310.10" y2="491.50" stroke="#111" stroke-width="1.0"/>
<line x1="305.60" y1="509.50" x2="310.10" y2="509.50" stroke="#111" stroke-width="1.0"/>
<line x1="305.60" y1="527.50" x2="310.10" y2="527.50" stroke="#111" stroke-width="1.0"/>
<line x1="310.50" y1="527.80" x2="310.50" y2="531.80" stroke="#111" stroke-width="1.0"/>
<line x1="364.50" y1="527.80" x2="364.50" y2="531.80" stroke="#111" stroke-width="1.0"/>
<line x1="418.50" y1="527.80" x2="418.50" y2="531.80" stroke="#111" stroke-width="1.0"/>
<line x1="473.50" y1="527.80" x2="473.50" y2="531.80" stroke="#111" stroke-width="1.0"/>
<line x1="527.50" y1="527.80" x2="527.50" y2="531.80" stroke="#111" stroke-width="1.0"/>
<text x="325.30" y="471.00" font-size="12.3" text-anchor="middle" font-style="italic" style="stroke-width:0.08px">II</text>
<text x="336.70" y="505.10" font-size="12.3" text-anchor="middle" font-style="italic" style="stroke-width:0.08px">III</text>
<text x="350.40" y="503.00" font-size="12.3" text-anchor="middle" font-style="italic" style="stroke-width:0.08px">IV</text>
<text x="378.60" y="521.00" font-size="12.3" text-anchor="middle" font-style="italic" style="stroke-width:0.08px">II</text>
<text x="392.00" y="489.60" font-size="12.3" text-anchor="middle" font-style="italic" style="stroke-width:0.08px">III</text>
<text x="405.20" y="507.20" font-size="12.3" text-anchor="middle" font-style="italic" style="stroke-width:0.08px">IV</text>
<text x="434.00" y="511.10" font-size="12.3" text-anchor="middle" font-style="italic" style="stroke-width:0.08px">II</text>
<text x="445.60" y="502.80" font-size="12.3" text-anchor="middle" font-style="italic" style="stroke-width:0.08px">III</text>
<text x="459.00" y="511.80" font-size="12.3" text-anchor="middle" font-style="italic" style="stroke-width:0.08px">IV</text>
<text x="487.30" y="506.30" font-size="12.3" text-anchor="middle" font-style="italic" style="stroke-width:0.08px">II</text>
<text x="498.60" y="453.20" font-size="12.3" text-anchor="middle" font-style="italic" style="stroke-width:0.08px">III</text>
<text x="513.20" y="407.00" font-size="12.3" text-anchor="middle" font-style="italic" style="stroke-width:0.08px">IV</text>
<text x="483.50" y="415.80" font-size="15.5" text-anchor="middle" font-style="italic">f</text>
<text x="304.40" y="423.33" font-size="13.3" text-anchor="end" textLength="23.25" lengthAdjust="spacingAndGlyphs">0.18</text>
<text x="304.40" y="459.59" font-size="13.3" text-anchor="end" textLength="23.25" lengthAdjust="spacingAndGlyphs">0.14</text>
<text x="304.40" y="495.84" font-size="13.3" text-anchor="end" textLength="23.25" lengthAdjust="spacingAndGlyphs">0.10</text>
<text x="304.40" y="532.10" font-size="13.3" text-anchor="end" textLength="23.25" lengthAdjust="spacingAndGlyphs">0.06</text>
<text x="337.50" y="540.90" font-size="13.3" text-anchor="middle" textLength="6.40" lengthAdjust="spacingAndGlyphs">2</text>
<text x="392.20" y="540.90" font-size="13.3" text-anchor="middle" textLength="6.40" lengthAdjust="spacingAndGlyphs">4</text>
<text x="446.10" y="540.90" font-size="13.3" text-anchor="middle" textLength="6.40" lengthAdjust="spacingAndGlyphs">6</text>
<text x="501.10" y="540.90" font-size="13.3" text-anchor="middle" textLength="6.40" lengthAdjust="spacingAndGlyphs">8</text>
<text x="375.60" y="553.00" font-size="14" text-anchor="start" textLength="92.60" lengthAdjust="spacingAndGlyphs">Reduction ratio</text>
<text x="3.00" y="9.95" font-size="14.8" text-anchor="start" textLength="7.80" lengthAdjust="spacingAndGlyphs">σ</text>
<text x="11.60" y="13.45" font-size="10" text-anchor="start" textLength="3.80" lengthAdjust="spacingAndGlyphs">r</text>
<text x="19.10" y="9.95" font-size="14.5" text-anchor="start">,</text>
<text x="25.70" y="9.95" font-size="14.3" text-anchor="start" textLength="28.40" lengthAdjust="spacingAndGlyphs">MPa</text>
<text x="280.00" y="9.95" font-size="14.8" text-anchor="start" textLength="7.80" lengthAdjust="spacingAndGlyphs">σ</text>
<text x="288.60" y="13.45" font-size="10" text-anchor="start" textLength="3.80" lengthAdjust="spacingAndGlyphs">r</text>
<text x="296.10" y="9.95" font-size="14.5" text-anchor="start">,</text>
<text x="302.70" y="9.95" font-size="14.3" text-anchor="start" textLength="28.40" lengthAdjust="spacingAndGlyphs">MPa</text>
<text x="6.20" y="207.30" font-size="13.5" text-anchor="start" textLength="27.00" lengthAdjust="spacingAndGlyphs">δ, %</text>
<text x="284.10" y="203.20" font-size="13.5" text-anchor="start" textLength="27.00" lengthAdjust="spacingAndGlyphs">δ, %</text>
<text x="0.70" y="390.80" font-size="15" text-anchor="start" font-style="italic" textLength="30.80" lengthAdjust="spacingAndGlyphs">KCU</text>
<text x="31.70" y="390.80" font-size="15" text-anchor="start">,</text>
<text x="38.60" y="390.80" font-size="14.8" text-anchor="start" textLength="18.40" lengthAdjust="spacingAndGlyphs">MJ</text>
<text transform="translate(57.20,393.90) skewX(-12)" x="0" y="0" font-size="21" style="stroke-width:0">/</text>
<text x="66.50" y="390.80" font-size="14.8" text-anchor="start" textLength="10.80" lengthAdjust="spacingAndGlyphs">m</text>
<text x="77.30" y="386.80" font-size="11" text-anchor="start" textLength="5.40" lengthAdjust="spacingAndGlyphs">2</text>
<text x="283.60" y="390.80" font-size="15" text-anchor="start" font-style="italic" textLength="30.80" lengthAdjust="spacingAndGlyphs">KCU</text>
<text x="314.60" y="390.80" font-size="15" text-anchor="start">,</text>
<text x="321.50" y="390.80" font-size="14.8" text-anchor="start" textLength="18.40" lengthAdjust="spacingAndGlyphs">MJ</text>
<text transform="translate(340.10,393.90) skewX(-12)" x="0" y="0" font-size="21" style="stroke-width:0">/</text>
<text x="349.40" y="390.80" font-size="14.8" text-anchor="start" textLength="10.80" lengthAdjust="spacingAndGlyphs">m</text>
<text x="360.20" y="386.80" font-size="11" text-anchor="start" textLength="5.40" lengthAdjust="spacingAndGlyphs">2</text>
</svg>
</body></html>
